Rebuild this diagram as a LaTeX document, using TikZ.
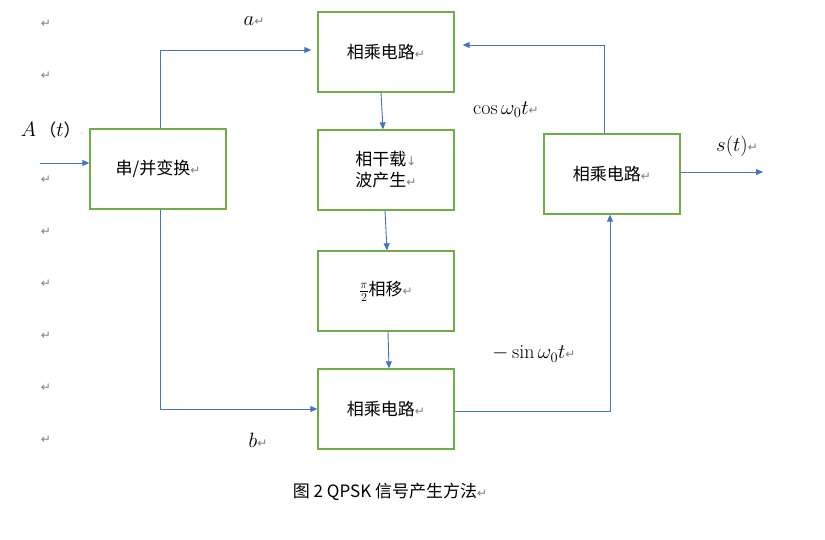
\documentclass[tikz,border=0pt]{standalone}
\usepackage{fontspec}
\newfontfamily\cjk{Noto Sans CJK SC}
\newfontfamily\arr{DejaVu Sans}
\usetikzlibrary{arrows.meta}
\definecolor{gbox}{HTML}{70AD47}
\definecolor{bline}{HTML}{4472C4}
\definecolor{mk}{HTML}{808080}
\newcommand{\rt}{{\arr\color{mk}\fontsize{12}{12}\selectfont ↵}}
\begin{document}
\begin{tikzpicture}[x=1pt,y=-1pt,
  box/.style={draw=gbox,line width=1.3pt,minimum width=136pt,minimum height=80pt,inner sep=0pt,font=\cjk\fontsize{17}{21}\selectfont,align=center},
  con/.style={draw=bline,line width=0.9pt},
  arr/.style={con,-{Triangle[length=7pt,width=6pt]}},
  lab/.style={font=\fontsize{20}{24}\selectfont,inner sep=0pt}]
\useasboundingbox (0,0) rectangle (825,539);
\node[box] (m1) at (386,52) {相乘电路\rt};
\node[box] (car) at (386,170) {相干载{\arr\color{mk}\fontsize{12}{12}\selectfont ↓}\\波产生\rt};
\node[box] (ph) at (386,291) {$\frac{\pi}{2}$相移\rt};
\node[box] (m2) at (386,409) {相乘电路\rt};
\node[box] (sp) at (158,169) {串/并变换\rt};
\node[box] (m3) at (612,174) {相乘电路\rt};
\coordinate (in) at (40,163);
\coordinate (out) at (763,172);
\draw[arr] (in) -- (sp.west |- in);
\draw[arr] ([xshift=2pt]sp.north) |- ([xshift=-6pt,yshift=2pt]m1.west);
\draw[arr] ([xshift=2pt]sp.south) |- (m2.west);
\draw[arr] ([xshift=-5pt]m1.south) -- ([xshift=-3pt]car.north);
\draw[arr] ([xshift=-1pt]car.south) -- ([xshift=1pt]ph.north);
\draw[arr] ([xshift=2pt]ph.south) -- ([xshift=3pt]m2.north);
\draw[arr] ([yshift=-2pt]m2.east) -| ([xshift=-2pt]m3.south);
\draw[arr] ([xshift=-8pt]m3.north) |- ([xshift=8pt,yshift=7pt]m1.east);
\draw[arr] (m3.east |- out) -- (out);
\node[lab] (la) at (254,21) {$a$\rt};
\node[lab] (lb) at (258,440) {$b$\rt};
\node[lab] (lA) at (52,130) {$A$\,{\cjk\fontsize{17}{20}\selectfont （}$t${\cjk\fontsize{17}{20}\selectfont ）}{\arr\color{mk}\fontsize{8}{8}\selectfont ·}};
\node[lab] (ls) at (737,146) {$s(t)$\rt};
\node[lab] (lc) at (506,110) {$\cos\omega_0 t$\rt};
\node[lab] (ln) at (534,354) {$-\sin\omega_0 t$\rt};
\node[font=\cjk\fontsize{17}{20}\selectfont] (cap) at (390,492) {图 2 QPSK 信号产生方法\rt};
\foreach \yy [count=\i] in {24,76,180,232,284,336,388,440}
  \node[inner sep=0pt] (r\i) at (46,\yy) {\rt};
\end{tikzpicture}
\end{document}
